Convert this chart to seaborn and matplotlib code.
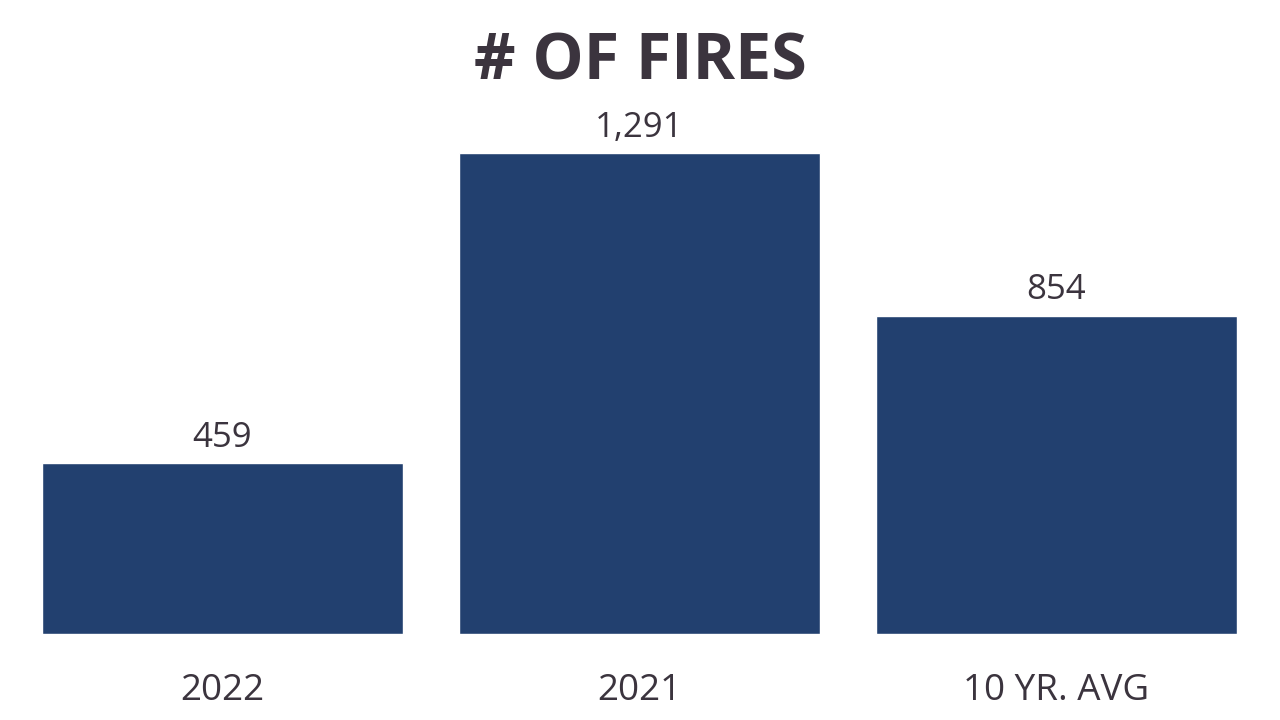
import matplotlib
matplotlib.use("Agg")
import matplotlib.pyplot as plt
import seaborn as sns
import pandas as pd

# dane
categories = ["2022", "2021", "10 YR. AVG"]
fires = [459, 1291, 854]
value_labels = ["459", "1,291", "854"]

df = pd.DataFrame({"period": categories, "fires": fires})

sns.set_theme(style="white")
plt.rcParams['font.family'] = ['Open Sans', 'DejaVu Sans']
text_color = "#3b343e"
bar_color = "#22406f"

fig = plt.figure(figsize=(12.8, 7.2), dpi=100)
ax = fig.add_axes([42 / 1280, 1 - 634 / 720, (1237 - 42) / 1280, (634 - 153) / 720])
sns.barplot(data=df, x="period", y="fires", color=bar_color, saturation=1, width=0.866, ax=ax)

ax.set_xlim(-0.433, 2.433)
ax.set_ylim(0, 1291)
for i, (v, lab) in enumerate(zip(fires, value_labels)):
    ax.annotate(lab, (i, v), xytext=(0, 6), textcoords="offset points",
                ha="center", va="bottom", fontsize=25, color=text_color)

ax.set_xlabel("")
ax.set_ylabel("")
ax.set_yticks([])
ax.tick_params(axis="x", length=0, pad=28, labelsize=26.5, labelcolor=text_color)
for s in ax.spines.values():
    s.set_visible(False)

fig.text(0.5, 1 - 63 / 720, "# OF FIRES", ha="center", va="center",
         fontsize=46.5, fontweight="bold", color=text_color)

fig.savefig("out.png", dpi=100)
